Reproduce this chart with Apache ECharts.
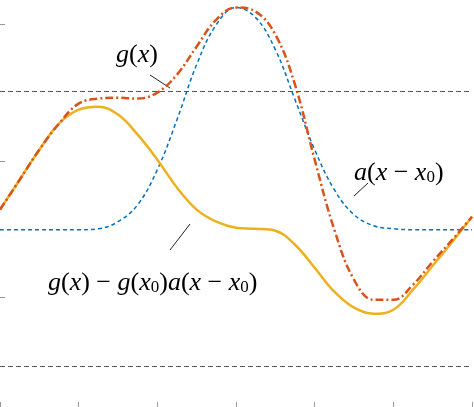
<!DOCTYPE html>
<html><head><meta charset="utf-8">
<script src="https://cdn.jsdelivr.net/npm/echarts@6/dist/echarts.min.js"></script>
<style>html,body{margin:0;padding:0;background:#fff}#c{width:474px;height:407px}</style>
</head><body><div id="c"></div>
<script>
const xs = [0,0.25,0.5,0.75,1,1.25,1.5,1.75,2,2.25,2.5,2.75,3,3.25,3.5,3.75,4,4.25,4.5,4.75,5,5.25,5.5,5.75,6];
const diffVals = [0.645,0.864,1.084,1.275,1.377,1.399,1.341,1.194,1.011,0.806,0.645,0.557,0.513,0.505,0.491,0.388,0.220,0.044,-0.073,-0.117,-0.088,0.059,0.234,0.410,0.593];
const gVals = [0.645,0.864,1.084,1.275,1.421,1.458,1.465,1.458,1.502,1.634,1.839,2.037,2.125,2.095,1.927,1.560,1.011,0.498,0.132,-0.015,-0.015,0.095,0.264,0.425,0.593];
const aVals = [0.498,0.498,0.498,0.498,0.498,0.505,0.557,0.681,0.938,1.304,1.707,2.0,2.125,2.051,1.817,1.451,1.084,0.791,0.608,0.527,0.505,0.498,0.498,0.498,0.498];
const refLines = [1.51,-0.5];
const yTicks = [0,1,2];
const pair = v => xs.map((x,i)=>[x,v[i]]);
const ch = echarts.init(document.getElementById('c'));
const serif = 'Liberation Serif';
const rich = {i:{fontFamily:serif,fontStyle:'italic',fontSize:26,color:'#111'},n:{fontFamily:serif,fontSize:26,color:'#111'},s:{fontFamily:serif,fontSize:17,color:'#111',verticalAlign:'bottom',padding:[10,0,0,0]}};
ch.setOption({
  animation:false,
  grid:{left:0,right:2,top:0,bottom:0},
  xAxis:{type:'value',min:0,max:6,interval:1,axisLine:{show:false,onZero:false},splitLine:{show:false},axisLabel:{show:false},
    axisTick:{show:true,inside:true,length:5,lineStyle:{color:'#999'}}},
  yAxis:{type:'value',min:-0.8,max:2.18,axisLine:{show:false,onZero:false},splitLine:{show:false},axisLabel:{show:false},
    axisTick:{show:true,inside:true,length:5,customValues:yTicks,lineStyle:{color:'#999'}}},
  series:[
    {type:'line',data:pair(aVals),smooth:0.4,symbol:'none',lineStyle:{color:'#0072BD',width:1.5,type:[4,3]},z:2,
     markLine:{silent:true,symbol:'none',label:{show:false},lineStyle:{color:'#555',type:[5,3],width:1},data:refLines.map(v=>({yAxis:v}))}},
    {type:'line',data:pair(diffVals),smooth:0.4,symbol:'none',lineStyle:{color:'#EDB120',width:2.5},z:3},
    {type:'line',data:pair(gVals),smooth:0.4,symbol:'none',lineStyle:{color:'#D95319',width:2.5,type:[8,3,2,3]},z:4}
  ],
  graphic:[
    {type:'text',left:116,top:42,style:{text:'{i|g}{n|(}{i|x}{n|)}',rich}},
    {type:'line',shape:{x1:150,y1:75,x2:170,y2:88},style:{stroke:'#222',lineWidth:1}},
    {type:'text',left:354,top:160,style:{text:'{i|a}{n|(}{i|x}{n| − }{i|x}{s|0}{n|)}',rich}},
    {type:'line',shape:{x1:368,y1:183,x2:354,y2:196},style:{stroke:'#222',lineWidth:1}},
    {type:'text',left:48,top:270,style:{text:'{i|g}{n|(}{i|x}{n|) − }{i|g}{n|(}{i|x}{s|0}{n|)}{i|a}{n|(}{i|x}{n| − }{i|x}{s|0}{n|)}',rich}},
    {type:'line',shape:{x1:170,y1:250,x2:190,y2:224},style:{stroke:'#222',lineWidth:1}}
  ]
});
</script></body></html>
